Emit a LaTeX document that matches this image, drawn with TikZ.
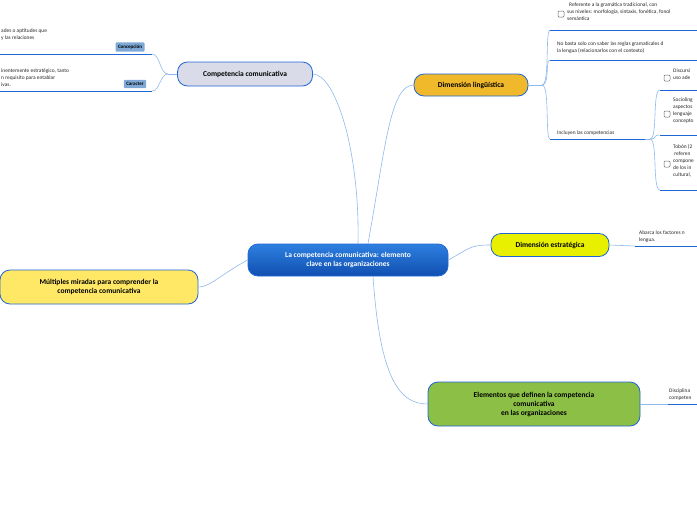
\documentclass[tikz,border=0pt]{standalone}
\usepackage{fontspec}
\setmainfont{Carlito}
\begin{document}
\begin{tikzpicture}[x=1pt,y=-1pt,
  topic/.style={draw=bord,line width=0.8pt,rounded corners=10pt,font=\bfseries\fontsize{7.5}{9}\selectfont,align=center,inner sep=2pt},
  tag/.style={fill=tagc,draw=none,font=\bfseries\fontsize{5}{6}\selectfont,inner sep=2.5pt,rounded corners=1pt},
  txt/.style={font=\fontsize{5.4}{7}\selectfont,align=left,anchor=south west,inner sep=1pt,text=black!85},
  conn/.style={draw=connc,line width=0.6pt},
  uline/.style={draw=bord,line width=1pt},
  cb/.style={draw=black!60,line width=0.5pt,rounded corners=1pt,minimum size=6pt,inner sep=0pt}]
\definecolor{bord}{HTML}{1F66D6}
\definecolor{connc}{HTML}{8FB8EC}
\definecolor{tagc}{HTML}{7EA9D6}
\definecolor{ctop}{HTML}{2E7FE0}
\definecolor{cbot}{HTML}{0F4FB0}
\definecolor{ccfill}{HTML}{D9DBE8}
\definecolor{dlfill}{HTML}{F0B92C}
\definecolor{defill}{HTML}{E8F000}
\definecolor{mmfill}{HTML}{FFE866}
\definecolor{elfill}{HTML}{8BBF45}
\useasboundingbox (0,0) rectangle (697,520);
\node[topic,minimum width=200pt,minimum height=32pt,top color=ctop,bottom color=cbot,text=white] (c) at (348,260) {La competencia comunicativa: elemento\\clave en las organizaciones};
\node[topic,minimum width=135pt,minimum height=24pt,fill=ccfill] (cc) at (245,74) {Competencia comunicativa};
\node[topic,minimum width=114pt,minimum height=22pt,fill=dlfill] (dl) at (471,85) {Dimensión lingüística};
\node[topic,minimum width=118pt,minimum height=23pt,fill=defill] (de) at (550,245) {Dimensión estratégica};
\node[topic,minimum width=198pt,minimum height=34pt,fill=mmfill] (mm) at (99,287) {Múltiples miradas para comprender la\\competencia comunicativa};
\node[topic,minimum width=212pt,minimum height=44pt,fill=elfill] (el) at (534,404) {Elementos que definen la competencia\\comunicativa\\en las organizaciones};
% connectors from center
\draw[conn] (c.north) ++(10,0) .. controls (360,150) and (335,74) .. (cc.east);
\draw[conn] (c.north) ++(20,0) .. controls (385,150) and (390,85) .. (dl.west);
\draw[conn] (c.east) .. controls (470,248) and (470,245) .. (de.west);
\draw[conn] (c.west) .. controls (220,275) and (210,287) .. (mm.east);
\draw[conn] (c.south) ++(25,0) .. controls (380,380) and (400,404) .. (el.west);
% Competencia comunicativa branches
\coordinate (ccj) at (168,74);
\draw[conn] (cc.west) -- (ccj);
\node[tag] (t1) at (130,47) {Concepción};
\node[tag] (t2) at (135,84) {Caracter};
\coordinate (l1a) at (0,54); \coordinate (l1b) at (152,54);
\coordinate (l2a) at (0,91); \coordinate (l2b) at (152,91);
\draw[uline] (l1a) -- (l1b); \draw[uline] (l2a) -- (l2b);
\draw[conn] (ccj) .. controls (160,74) and (160,54) .. (l1b);
\draw[conn] (ccj) .. controls (160,74) and (160,91) .. (l2b);
\node[txt] (x1) at (0,42) {ades o aptitudes que\\y las relaciones};
\node[txt] (x2) at (0,88) {inentemente estratégico, tanto\\n requisito para entablar\\ivas.};
% Dimension linguistica branches
\coordinate (dlj) at (542,85);
\draw[conn] (dl.east) -- (dlj);
\coordinate (r1a) at (550,30); \coordinate (r1b) at (697,30);
\coordinate (r2a) at (550,60); \coordinate (r2b) at (697,60);
\coordinate (r3a) at (550,139); \coordinate (r3b) at (645,139);
\draw[uline] (r1a) -- (r1b); \draw[uline] (r2a) -- (r2b); \draw[uline] (r3a) -- (r3b);
\draw[conn] (dlj) .. controls (550,85) and (545,30) .. (r1a);
\draw[conn] (dlj) .. controls (550,85) and (545,60) .. (r2a);
\draw[conn] (dlj) .. controls (550,85) and (545,139) .. (r3a);
\node[cb] (b1) at (561,14) {};
\node[txt,anchor=north west] (y1) at (566,2) {\hspace*{2pt}Referente a la gramática tradicional, con\\sus niveles: morfología, sintaxis, fonética, fonol\\semántica};
\node[txt] (y2) at (556,55) {No basta solo con saber las reglas gramaticales d\\la lengua (relacionarlos con el contexto)};
\node[txt] (y3) at (556,137) {Incluyen las competencias};
\coordinate (sj) at (650,139);
\draw[conn] (r3b) -- (sj);
\coordinate (s1a) at (660,90); \coordinate (s2a) at (660,135); \coordinate (s3a) at (660,190);
\draw[uline] (s1a) -- (697,90); \draw[uline] (s2a) -- (697,135); \draw[uline] (s3a) -- (697,190);
\draw[conn] (sj) .. controls (658,139) and (652,90) .. (s1a);
\draw[conn] (sj) .. controls (658,139) and (652,135) .. (s2a);
\draw[conn] (sj) .. controls (658,139) and (652,190) .. (s3a);
\node[cb] (b2) at (667,78) {};
\node[cb] (b3) at (667,114) {};
\node[cb] (b4) at (667,164) {};
\node[txt,anchor=north west] (z1) at (672,68) {Discursi\\uso ade};
\node[txt,anchor=north west] (z2) at (672,97) {Socioling\\aspectos\\lenguaje\\concepto};
\node[txt,anchor=north west] (z3) at (672,143) {Tobón (2\\\ referen\\compone\\de los in\\cultural,};
% Dimension estrategica
\coordinate (ea) at (635,246);
\draw[conn] (de.east) -- (ea);
\draw[uline] (ea) -- (697,246);
\node[txt] (w1) at (638,244) {Abarca los factores n\\lengua.};
% Elementos
\coordinate (fa) at (668,404);
\draw[conn] (el.east) -- (fa);
\draw[uline] (fa) -- (697,404);
\node[txt] (v1) at (668,402) {Disciplina\\competen};
\end{tikzpicture}
\end{document}
